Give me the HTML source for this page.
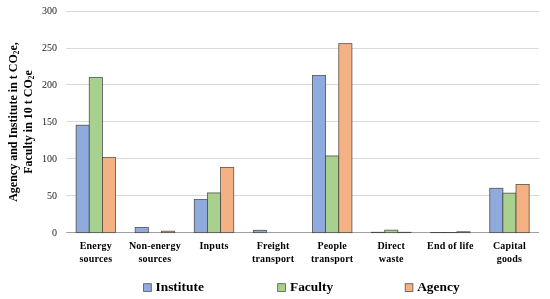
<!DOCTYPE html>
<html><head><meta charset="utf-8"><style>
html,body{margin:0;padding:0;background:#fff;}
body{width:550px;height:299px;position:relative;overflow:hidden;font-family:"Liberation Serif",serif;color:#000;}
svg{position:absolute;left:0;top:0;}
.yl{position:absolute;left:20px;width:37px;text-align:right;font-size:10px;line-height:14px;color:#1a1a1a;}
.xl{position:absolute;top:240.4px;width:80px;text-align:center;font-size:10px;line-height:12.5px;font-weight:bold;letter-spacing:0.2px;}
.yt{position:absolute;left:-59px;top:106.5px;width:160px;height:30px;transform:rotate(-90deg);transform-origin:80px 15px;
 text-align:center;font-weight:bold;font-size:12px;line-height:14.5px;white-space:nowrap;}
.yt sub{font-size:0.6em;vertical-align:-0.25em;line-height:0;}
.lg{position:absolute;top:279.7px;font-size:13.4px;font-weight:bold;line-height:14px;}
</style></head><body>
<svg width="550" height="299" viewBox="0 0 550 299">
<line x1="66.3" x2="539.0" y1="232.5" y2="232.5" stroke="#a0a0a0" stroke-width="1"/>
<line x1="66.3" x2="539.0" y1="195.50" y2="195.50" stroke="#d9d9d9" stroke-width="1"/>
<line x1="66.3" x2="539.0" y1="158.50" y2="158.50" stroke="#d9d9d9" stroke-width="1"/>
<line x1="66.3" x2="539.0" y1="121.50" y2="121.50" stroke="#d9d9d9" stroke-width="1"/>
<line x1="66.3" x2="539.0" y1="84.50" y2="84.50" stroke="#d9d9d9" stroke-width="1"/>
<line x1="66.3" x2="539.0" y1="48.50" y2="48.50" stroke="#d9d9d9" stroke-width="1"/>
<line x1="66.3" x2="539.0" y1="11.50" y2="11.50" stroke="#d9d9d9" stroke-width="1"/>
<rect x="76.12" y="125.22" width="13.15" height="107.43" fill="#8faadc" stroke="#3a3a3a" stroke-opacity="0.85" stroke-width="0.8"/>
<rect x="89.27" y="77.38" width="13.15" height="155.27" fill="#a9d18e" stroke="#3a3a3a" stroke-opacity="0.85" stroke-width="0.8"/>
<rect x="102.42" y="157.56" width="13.15" height="75.09" fill="#f4b183" stroke="#3a3a3a" stroke-opacity="0.85" stroke-width="0.8"/>
<rect x="135.21" y="227.48" width="13.15" height="5.17" fill="#8faadc" stroke="#3a3a3a" stroke-opacity="0.85" stroke-width="0.8"/>
<rect x="161.51" y="231.17" width="13.15" height="1.48" fill="#f4b183" stroke="#3a3a3a" stroke-opacity="0.85" stroke-width="0.8"/>
<rect x="194.29" y="199.57" width="13.15" height="33.08" fill="#8faadc" stroke="#3a3a3a" stroke-opacity="0.85" stroke-width="0.8"/>
<rect x="207.44" y="192.93" width="13.15" height="39.72" fill="#a9d18e" stroke="#3a3a3a" stroke-opacity="0.85" stroke-width="0.8"/>
<rect x="220.59" y="167.38" width="13.15" height="65.27" fill="#f4b183" stroke="#3a3a3a" stroke-opacity="0.85" stroke-width="0.8"/>
<rect x="253.38" y="230.29" width="13.15" height="2.36" fill="#8faadc" stroke="#3a3a3a" stroke-opacity="0.85" stroke-width="0.8"/>
<rect x="312.47" y="75.53" width="13.15" height="157.12" fill="#8faadc" stroke="#3a3a3a" stroke-opacity="0.85" stroke-width="0.8"/>
<rect x="325.62" y="155.94" width="13.15" height="76.71" fill="#a9d18e" stroke="#3a3a3a" stroke-opacity="0.85" stroke-width="0.8"/>
<rect x="338.77" y="43.64" width="13.15" height="189.01" fill="#f4b183" stroke="#3a3a3a" stroke-opacity="0.85" stroke-width="0.8"/>
<rect x="371.56" y="232.28" width="13.15" height="0.37" fill="#8faadc" stroke="#3a3a3a" stroke-opacity="0.85" stroke-width="0.8"/>
<rect x="384.71" y="230.14" width="13.15" height="2.51" fill="#a9d18e" stroke="#3a3a3a" stroke-opacity="0.85" stroke-width="0.8"/>
<rect x="397.86" y="232.28" width="13.15" height="0.37" fill="#f4b183" stroke="#3a3a3a" stroke-opacity="0.85" stroke-width="0.8"/>
<rect x="430.64" y="232.43" width="13.15" height="0.22" fill="#8faadc" stroke="#3a3a3a" stroke-opacity="0.85" stroke-width="0.8"/>
<rect x="443.79" y="232.43" width="13.15" height="0.22" fill="#a9d18e" stroke="#3a3a3a" stroke-opacity="0.85" stroke-width="0.8"/>
<rect x="456.94" y="231.76" width="13.15" height="0.89" fill="#f4b183" stroke="#3a3a3a" stroke-opacity="0.85" stroke-width="0.8"/>
<rect x="489.73" y="188.28" width="13.15" height="44.37" fill="#8faadc" stroke="#3a3a3a" stroke-opacity="0.85" stroke-width="0.8"/>
<rect x="502.88" y="193.15" width="13.15" height="39.50" fill="#a9d18e" stroke="#3a3a3a" stroke-opacity="0.85" stroke-width="0.8"/>
<rect x="516.03" y="184.44" width="13.15" height="48.21" fill="#f4b183" stroke="#3a3a3a" stroke-opacity="0.85" stroke-width="0.8"/>
<rect x="143.60" y="283.7" width="7.7" height="7.7" fill="#8faadc" stroke="#3a3a3a" stroke-opacity="0.85" stroke-width="0.8"/>
<rect x="277.70" y="283.7" width="7.7" height="7.7" fill="#a9d18e" stroke="#3a3a3a" stroke-opacity="0.85" stroke-width="0.8"/>
<rect x="405.20" y="283.7" width="7.7" height="7.7" fill="#f4b183" stroke="#3a3a3a" stroke-opacity="0.85" stroke-width="0.8"/>
</svg>
<div class="yl" style="top:225.65px">0</div>
<div class="yl" style="top:188.73px">50</div>
<div class="yl" style="top:151.82px">100</div>
<div class="yl" style="top:114.90px">150</div>
<div class="yl" style="top:77.98px">200</div>
<div class="yl" style="top:41.07px">250</div>
<div class="yl" style="top:4.15px">300</div>
<div class="xl" style="left:55.84px">Energy<br>sources</div>
<div class="xl" style="left:114.93px">Non-energy<br>sources</div>
<div class="xl" style="left:174.02px">Inputs</div>
<div class="xl" style="left:233.11px">Freight<br>transport</div>
<div class="xl" style="left:292.19px">People<br>transport</div>
<div class="xl" style="left:351.28px">Direct<br>waste</div>
<div class="xl" style="left:410.37px">End of life</div>
<div class="xl" style="left:469.46px">Capital<br>goods</div>
<div class="yt">Agency and Institute in t CO<sub>2</sub>e,<br>Faculty in 10 t CO<sub>2</sub>e</div>
<div class="lg" style="left:155.5px">Institute</div>
<div class="lg" style="left:290px">Faculty</div>
<div class="lg" style="left:417.2px">Agency</div>
</body></html>
